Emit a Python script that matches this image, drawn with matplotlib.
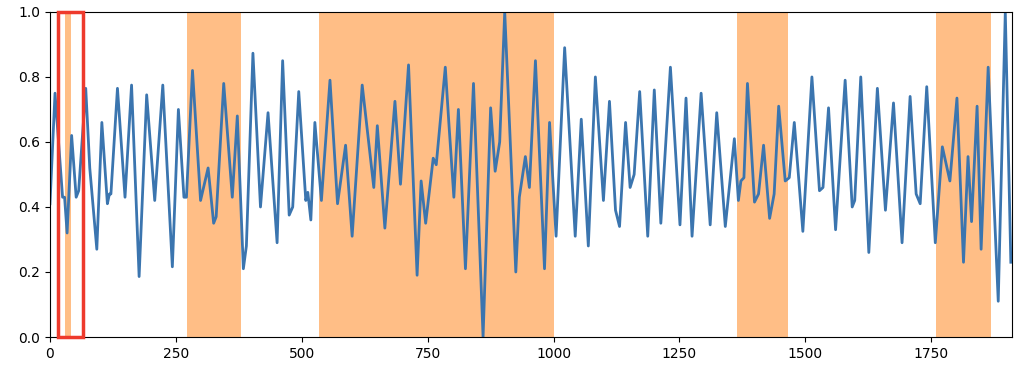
import matplotlib
matplotlib.use("Agg")
import matplotlib.pyplot as plt
import matplotlib.patches as patches

# signal (sample index, value) - peaks, troughs and shoulders
t = [0, 10, 25, 29, 34, 43, 52, 57, 71, 79, 93, 103, 114, 118, 121, 134, 149, 162, 177, 192,
     208, 224, 243, 255, 266, 271, 283, 299, 314, 325, 330, 345, 362, 372, 384, 390, 403, 418,
     433, 451, 462, 475, 482, 494, 508, 512, 518, 526, 539, 556, 571, 587, 600, 620, 643, 650,
     665, 685, 696, 712, 729, 737, 746, 761, 767, 785, 792, 802, 811, 825, 841, 860, 875, 884,
     893, 903, 925, 932, 944, 952, 964, 982, 992, 1005, 1022, 1043, 1055, 1069, 1083, 1099,
     1111, 1123, 1131, 1143, 1152, 1160, 1171, 1187, 1200, 1213, 1232, 1251, 1263, 1275, 1293,
     1311, 1324, 1341, 1359, 1367, 1372, 1378, 1385, 1399, 1407, 1417, 1429, 1438, 1447, 1460,
     1468, 1478, 1495, 1513, 1528, 1535, 1546, 1560, 1579, 1593, 1598, 1610, 1626, 1643, 1659,
     1675, 1692, 1708, 1720, 1728, 1741, 1758, 1772, 1787, 1801, 1814, 1823, 1830, 1841, 1849,
     1863, 1883, 1897, 1908]
signal = [0.41, 0.75, 0.43, 0.43, 0.32, 0.62, 0.43, 0.45, 0.765, 0.52, 0.27, 0.66, 0.41, 0.44,
          0.44, 0.765, 0.43, 0.775, 0.186, 0.745, 0.42, 0.775, 0.216, 0.70, 0.43, 0.43, 0.82,
          0.42, 0.52, 0.35, 0.37, 0.78, 0.43, 0.68, 0.21, 0.28, 0.873, 0.40, 0.69, 0.29, 0.85,
          0.375, 0.40, 0.755, 0.42, 0.445, 0.36, 0.66, 0.42, 0.79, 0.41, 0.59, 0.31, 0.775, 0.46,
          0.65, 0.335, 0.725, 0.47, 0.837, 0.19, 0.48, 0.35, 0.55, 0.53, 0.83, 0.66, 0.43, 0.70,
          0.21, 0.78, 0.0, 0.705, 0.51, 0.60, 1.0, 0.20, 0.43, 0.555, 0.46, 0.85, 0.21, 0.66,
          0.31, 0.89, 0.31, 0.67, 0.28, 0.80, 0.42, 0.725, 0.39, 0.34, 0.66, 0.46, 0.50, 0.755,
          0.31, 0.76, 0.35, 0.83, 0.345, 0.735, 0.31, 0.75, 0.345, 0.69, 0.34, 0.61, 0.42, 0.48,
          0.49, 0.78, 0.415, 0.44, 0.59, 0.365, 0.44, 0.71, 0.48, 0.49, 0.66, 0.325, 0.80, 0.45,
          0.46, 0.705, 0.33, 0.79, 0.40, 0.42, 0.80, 0.26, 0.765, 0.39, 0.72, 0.29, 0.74, 0.44,
          0.41, 0.77, 0.29, 0.585, 0.48, 0.735, 0.23, 0.555, 0.355, 0.71, 0.27, 0.83, 0.11, 1.0,
          0.23]

# highlighted segments (start, end)
seg_start = [30, 272, 535, 1365, 1760]
seg_end = [41, 380, 1000, 1465, 1868]

# selected window (red box)
win_start = 16.5
win_end = 66
n_samples = 1910

fig = plt.figure(figsize=(10.2, 3.73), dpi=100)
ax = fig.add_axes([0.049, 0.0965, 0.943, 0.8715])

for s, e in zip(seg_start, seg_end):
    ax.axvspan(s, e, color='tab:orange', alpha=0.5, lw=0)

ax.plot(t, signal, color='#3b75af', lw=2.0, solid_joinstyle='round')

box = patches.Rectangle((win_start, 0), win_end - win_start, 1.0, fill=False,
                        edgecolor='#ee3a2c', lw=2.5, zorder=5, clip_on=False)
ax.add_patch(box)

ax.set_xlim(0, n_samples)
ax.set_ylim(0, 1)
ax.set_xticks([0, 250, 500, 750, 1000, 1250, 1500, 1750])
ax.set_yticks([0.0, 0.2, 0.4, 0.6, 0.8, 1.0])

fig.savefig('out.png', dpi=100)
